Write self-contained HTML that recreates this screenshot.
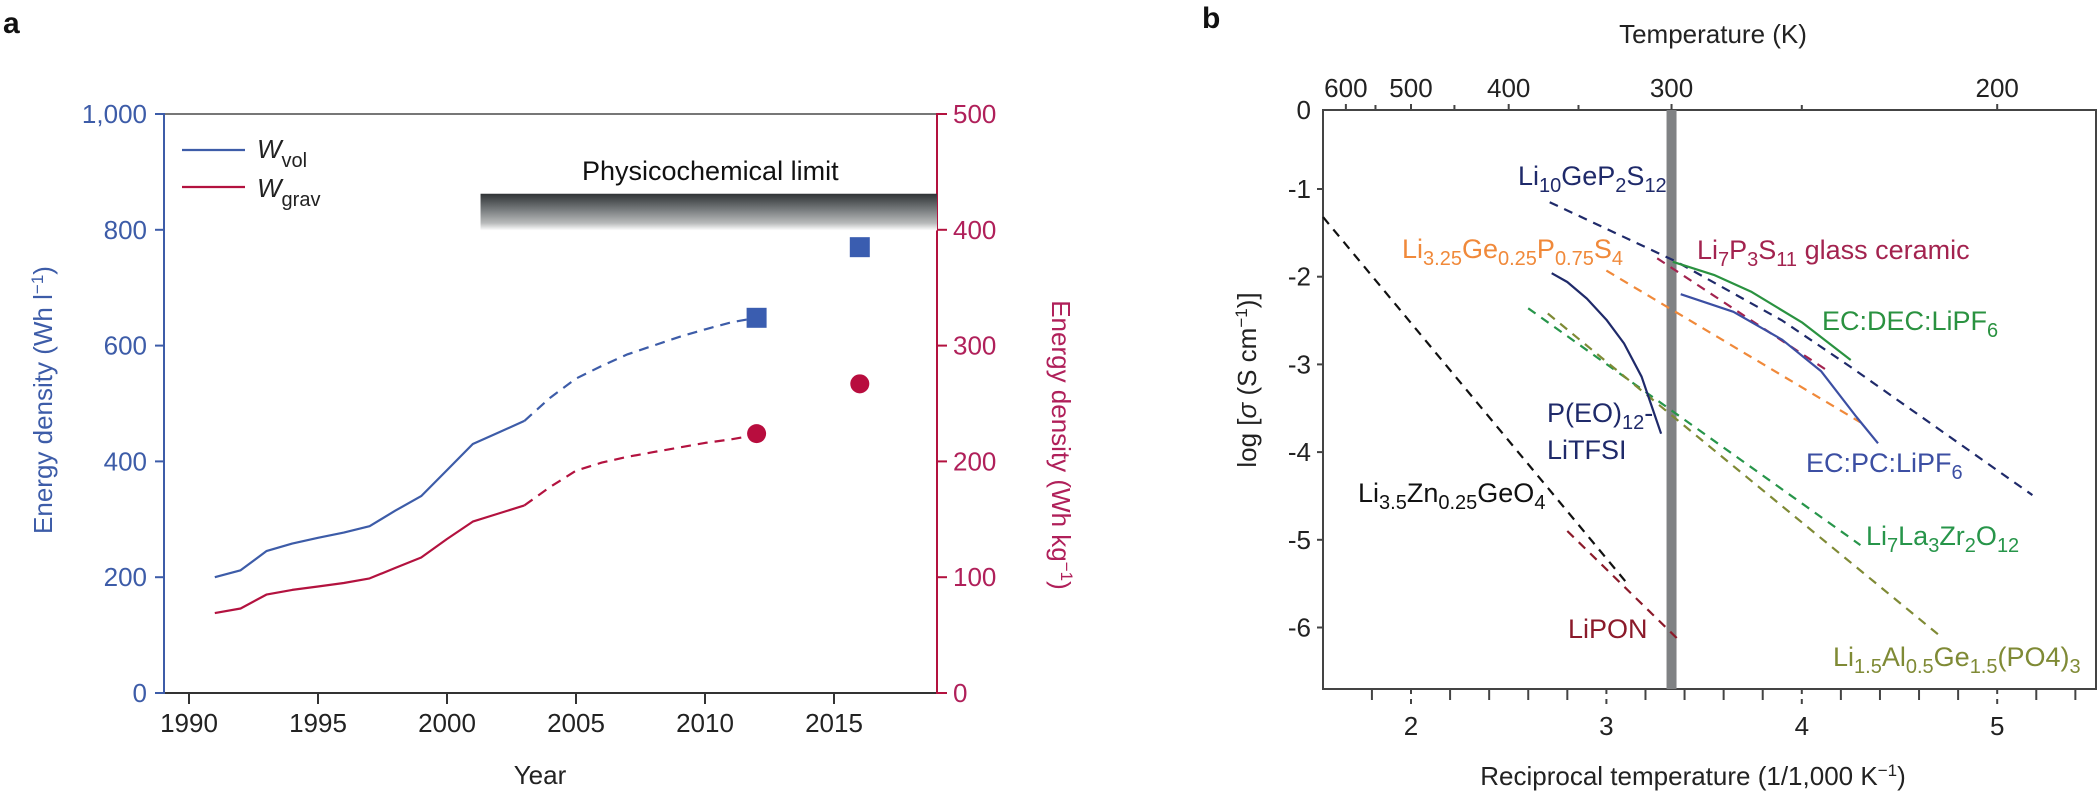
<!DOCTYPE html>
<html><head><meta charset="utf-8"><style>
html,body{margin:0;padding:0;background:#fff;}
svg{display:block;font-family:"Liberation Sans",sans-serif;}
</style></head><body>
<svg id="fig" width="2100" height="794" viewBox="0 0 2100 794" xmlns="http://www.w3.org/2000/svg">
<defs>
<linearGradient id="lim" x1="0" y1="0" x2="0" y2="1">
<stop offset="0" stop-color="#2f3335"/><stop offset="0.45" stop-color="#7a7e80"/><stop offset="0.8" stop-color="#b8baba"/><stop offset="1" stop-color="#ffffff"/>
</linearGradient>
</defs>
<g id="pa"></g>
<g id="pb"></g>
</svg>
<script>
// ---------- Panel a data ----------
const yearsSolid = [1991,1992,1993,1994,1995,1996,1997,1998,1999,2000,2001,2002,2003];
const volSolid = [200,212,245,258,268,277,288,315,340,385,430,450,470];
const gravSolid = [69,73,85,89,92,95,99,108,117,133,148,155,162];
const yearsDash = [2003,2004,2005,2006,2007,2008,2009,2010,2011,2012];
const volDash = [470,510,543,565,585,600,615,628,640,648];
const gravDash = [162,178,192,199,204,208,212,216,219,223];
const volMarkYears = [2012,2016];
const volMarks = [648,770];
const gravMarkYears = [2012,2016];
const gravMarks = [224,267];
const yearTicks = [1990,1995,2000,2005,2010,2015];
const volTicks = [0,200,400,600,800,1000];
const volTickLabels = ["0","200","400","600","800","1,000"];
const gravTicks = [0,100,200,300,400,500];
const limitStartYear = 2001.3;
const limitRange = [415,432];

// ---------- Panel b data ----------
const kTicksMajor = [600,500,400,300,200];
const kTicksMinor = [550,450,350,250];
const recipTicks = [2,3,4,5];
const logTicks = [-1,-2,-3,-4,-5,-6];
const sZnX=[1.55,3.10], sZnY=[-1.32,-5.48];
const sLiponX=[2.80,3.36], sLiponY=[-4.90,-6.12];
const sLgpsX=[2.71,3.36,3.90,4.25,5.18], sLgpsY=[-1.15,-1.83,-2.50,-3.03,-4.49];
const sLgpsOX=[3.00,4.30], sLgpsOY=[-1.93,-3.66];
const sLpsX=[3.26,4.13], sLpsY=[-1.79,-3.07];
const sDecX=[3.34,3.55,3.74,4.00,4.25], sDecY=[-1.83,-1.98,-2.17,-2.52,-2.95];
const sPcX=[3.38,3.65,3.90,4.10,4.28,4.39], sPcY=[-2.20,-2.40,-2.72,-3.08,-3.60,-3.90];
const sPeoX=[2.72,2.80,2.90,3.00,3.09,3.18,3.28], sPeoY=[-1.96,-2.06,-2.25,-2.49,-2.76,-3.14,-3.79];
const sLlzoX=[2.60,4.30], sLlzoY=[-2.36,-5.06];
const sLagpX=[2.70,4.72], sLagpY=[-2.42,-6.12];
const roomTempK = 300;

const NS="http://www.w3.org/2000/svg";
function mk(parent,tag,attrs){const e=document.createElementNS(NS,tag);for(const k in attrs)e.setAttribute(k,attrs[k]);parent.appendChild(e);return e;}

// ---------- Panel a ----------
const pa=document.getElementById('pa');
const AX=y=>189+(y-1990)*25.8;
const AV=v=>693-v*0.579;
const AG=g=>693-g*1.158;
const blue="#3d5ca8", red="#b3123f", redT="#b0205a";
let t;
t=mk(pa,'text',{x:3,y:33,'font-size':30,'font-weight':'bold',fill:'#111'});t.textContent='a';

let e=mk(pa,'line',{x1:164,y1:114,x2:937,y2:114,stroke:'#777','stroke-width':2});

e=mk(pa,'line',{x1:164,y1:693,x2:937,y2:693,stroke:'#333','stroke-width':2});

e=mk(pa,'line',{x1:164,y1:113,x2:164,y2:694,stroke:blue,'stroke-width':2});

e=mk(pa,'line',{x1:937,y1:113,x2:937,y2:694,stroke:red,'stroke-width':2});

yearTicks.forEach(y=>{
  const l=mk(pa,'line',{x1:AX(y),y1:693,x2:AX(y),y2:704,stroke:'#333','stroke-width':2});
  
  const tx=mk(pa,'text',{x:AX(y),y:732,'font-size':26,'text-anchor':'middle',fill:'#222'});tx.textContent=y;
  
});
volTicks.forEach((v,i)=>{
  const l=mk(pa,'line',{x1:155,y1:AV(v),x2:164,y2:AV(v),stroke:blue,'stroke-width':2});
  
  const tx=mk(pa,'text',{x:147,y:AV(v)+9,'font-size':26,'text-anchor':'end',fill:blue});tx.textContent=volTickLabels[i];
  
});
gravTicks.forEach(g=>{
  const l=mk(pa,'line',{x1:937,y1:AG(g),x2:947,y2:AG(g),stroke:red,'stroke-width':2});
  
  const tx=mk(pa,'text',{x:953,y:AG(g)+9,'font-size':26,fill:redT});tx.textContent=g;
  
});
t=mk(pa,'text',{x:540,y:784,'font-size':26,'text-anchor':'middle',fill:'#222'});t.textContent='Year';

t=mk(pa,'text',{x:0,y:0,'font-size':26,'text-anchor':'middle',fill:blue,transform:'translate(52,400) rotate(-90)'});
t.innerHTML='Energy density (Wh l<tspan dy="-9" font-size="17">−1</tspan><tspan dy="9">)</tspan>';

t=mk(pa,'text',{x:0,y:0,'font-size':26,'text-anchor':'middle',fill:redT,transform:'translate(1052,445) rotate(90)'});
t.innerHTML='Energy density (Wh kg<tspan dy="-9" font-size="17">−1</tspan><tspan dy="9">)</tspan>';

e=mk(pa,'rect',{x:AX(limitStartYear),y:AG(limitRange[1])+1,width:937-AX(limitStartYear),height:AG(limitRange[0])-AG(limitRange[1])+17,fill:'url(#lim)'});

t=mk(pa,'text',{x:582,y:180,'font-size':27,fill:'#111'});t.textContent='Physicochemical limit';

function poly(parent,xs,ys,fx,fy,col,dash,name,w){
  const p=xs.map((x,i)=>fx(x).toFixed(1)+','+fy(ys[i]).toFixed(1)).join(' ');
  const el=mk(parent,'polyline',{points:p,fill:'none',stroke:col,'stroke-width':w||2.2,'stroke-dasharray':dash||'none','stroke-linejoin':'round'});
  
}
poly(pa,yearsSolid,volSolid,AX,AV,blue,null,'wvol-line');
poly(pa,yearsDash,volDash,AX,AV,blue,'10,7','wvol-projection');
poly(pa,yearsSolid,gravSolid,AX,AG,red,null,'wgrav-line');
poly(pa,yearsDash,gravDash,AX,AG,red,'10,7','wgrav-projection');
volMarks.forEach((v,i)=>{const r=mk(pa,'rect',{x:AX(volMarkYears[i])-10,y:AV(v)-10,width:20,height:20,fill:'#3a5db0'});
  });
gravMarks.forEach((g,i)=>{const c=mk(pa,'circle',{cx:AX(gravMarkYears[i]),cy:AG(g),r:9.5,fill:'#b80d3e'});
  });
e=mk(pa,'line',{x1:182,y1:150,x2:245,y2:150,stroke:blue,'stroke-width':2.2});

e=mk(pa,'line',{x1:182,y1:187,x2:245,y2:187,stroke:red,'stroke-width':2.2});

t=mk(pa,'text',{x:257,y:158,'font-size':26,fill:'#222'});t.innerHTML='<tspan font-style="italic">W</tspan><tspan dy="9" font-size="20">vol</tspan>';

t=mk(pa,'text',{x:257,y:197,'font-size':26,fill:'#222'});t.innerHTML='<tspan font-style="italic">W</tspan><tspan dy="9" font-size="20">grav</tspan>';


// ---------- Panel b ----------
const pb=document.getElementById('pb');
const BX=x=>1411+(x-2)*195.4;
const BY=v=>101.3-v*87.7;
const L=1323,R=2096,T=110,B=689;
t=mk(pb,'text',{x:1202,y:28,'font-size':30,'font-weight':'bold',fill:'#111'});t.textContent='b';

e=mk(pb,'rect',{x:L,y:T,width:R-L,height:B-T,fill:'none',stroke:'#444','stroke-width':2});

e=mk(pb,'rect',{x:BX(1000/roomTempK)-5,y:T,width:10,height:B-T,fill:'#808284'});

for(let v=1.8;v<=5.41;v+=0.2){
  const isMaj=Math.abs(v-Math.round(v))<0.01;
  const l=mk(pb,'line',{x1:BX(v),y1:B,x2:BX(v),y2:B+(isMaj?17:11),stroke:'#444','stroke-width':2,'stroke-dasharray':isMaj?'5,5':'none'});
  
}
recipTicks.forEach(v=>{const tx=mk(pb,'text',{x:BX(v),y:735,'font-size':26,'text-anchor':'middle',fill:'#222'});tx.textContent=v;
  });
kTicksMajor.forEach(k=>{const l=mk(pb,'line',{x1:BX(1000/k),y1:T,x2:BX(1000/k),y2:T-6,stroke:'#444','stroke-width':2});
  
  const tx=mk(pb,'text',{x:BX(1000/k),y:97,'font-size':26,'text-anchor':'middle',fill:'#222'});tx.textContent=k;
  });
kTicksMinor.forEach(k=>{const l=mk(pb,'line',{x1:BX(1000/k),y1:T,x2:BX(1000/k),y2:T-5,stroke:'#444','stroke-width':2});
  });
logTicks.forEach(v=>{const l=mk(pb,'line',{x1:L-6,y1:BY(v),x2:L,y2:BY(v),stroke:'#444','stroke-width':2});
  
  const tx=mk(pb,'text',{x:1311,y:BY(v)+9,'font-size':26,'text-anchor':'end',fill:'#222'});tx.textContent='-'+Math.abs(v);
  });
t=mk(pb,'text',{x:1311,y:T+9,'font-size':26,'text-anchor':'end',fill:'#222'});t.textContent='0';

t=mk(pb,'text',{x:1713,y:43,'font-size':26,'text-anchor':'middle',fill:'#222'});t.textContent='Temperature (K)';

t=mk(pb,'text',{x:1693,y:785,'font-size':26,'text-anchor':'middle',fill:'#222'});
t.innerHTML='Reciprocal temperature (1/1,000 K<tspan dy="-9" font-size="17">−1</tspan><tspan dy="9">)</tspan>';

t=mk(pb,'text',{x:0,y:0,'font-size':26,'text-anchor':'middle',fill:'#222',transform:'translate(1256,380) rotate(-90)'});
t.innerHTML='log [<tspan font-style="italic">σ</tspan> (S cm<tspan dy="-9" font-size="17">−1</tspan><tspan dy="9">)]</tspan>';

const D='9,7';
poly(pb,sZnX,sZnY,BX,BY,'#111',D,'li35zn-line');
poly(pb,sLiponX,sLiponY,BX,BY,'#8b1a2a',D,'lipon-line');
poly(pb,sLlzoX,sLlzoY,BX,BY,'#27954a',D,'llzo-line');
poly(pb,sLagpX,sLagpY,BX,BY,'#7f8a35',D,'lagp-line');
poly(pb,sLgpsOX,sLgpsOY,BX,BY,'#f0893a',D,'li325ge-line');
poly(pb,sLpsX,sLpsY,BX,BY,'#a3234f',D,'li7p3s11-line');
poly(pb,sLgpsX,sLgpsY,BX,BY,'#1f2a6a',D,'li10gep2s12-line');
poly(pb,sDecX,sDecY,BX,BY,'#2a9240',null,'ec-dec-line');
poly(pb,sPcX,sPcY,BX,BY,'#3c4fa3',null,'ec-pc-line');
poly(pb,sPeoX,sPeoY,BX,BY,'#1f2a6a',null,'peo-line');
function lab(x,y,col,html,name){const tx=mk(pb,'text',{x:x,y:y,'font-size':27,fill:col});tx.innerHTML=html;
  }
const s=v=>'<tspan dy="7" font-size="20">'+v+'</tspan><tspan dy="-7">';
const e_='</tspan>';
lab(1518,185,'#1f2a6a','Li'+s('10')+'GeP'+e_+s('2')+'S'+e_+s('12')+e_,'label-li10gep2s12');
lab(1402,258,'#f0893a','Li'+s('3.25')+'Ge'+e_+s('0.25')+'P'+e_+s('0.75')+'S'+e_+s('4')+e_,'label-li325ge');
lab(1697,259,'#a3234f','Li'+s('7')+'P'+e_+s('3')+'S'+e_+s('11')+' glass ceramic'+e_,'label-li7p3s11');
lab(1822,330,'#2a9240','EC:DEC:LiPF'+s('6')+e_,'label-ec-dec');
lab(1547,422,'#1f2a6a','P(EO)'+s('12')+'-'+e_,'label-peo');
lab(1547,459,'#1f2a6a','LiTFSI','label-litfsi');
lab(1806,472,'#3c4fa3','EC:PC:LiPF'+s('6')+e_,'label-ec-pc');
lab(1358,502,'#111','Li'+s('3.5')+'Zn'+e_+s('0.25')+'GeO'+e_+s('4')+e_,'label-li35zn');
lab(1866,545,'#27954a','Li'+s('7')+'La'+e_+s('3')+'Zr'+e_+s('2')+'O'+e_+s('12')+e_,'label-llzo');
lab(1568,638,'#8b1a2a','LiPON','label-lipon');
lab(1833,666,'#7f8a35','Li'+s('1.5')+'Al'+e_+s('0.5')+'Ge'+e_+s('1.5')+'(PO4)'+e_+s('3')+e_,'label-lagp');
</script>
</body></html>
